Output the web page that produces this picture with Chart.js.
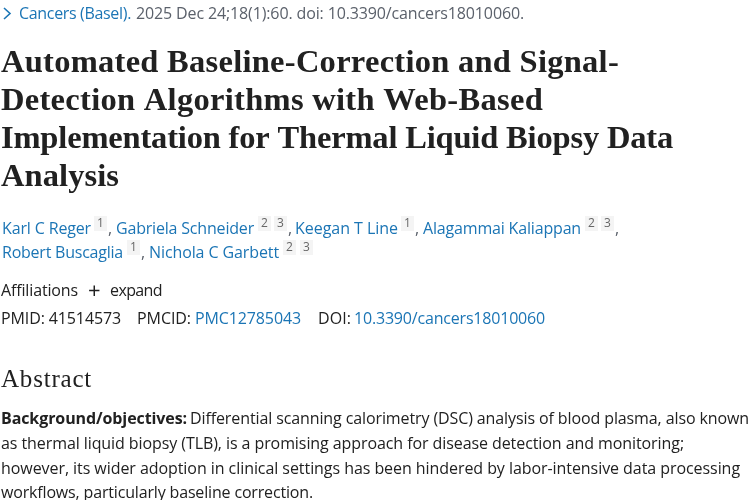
<!DOCTYPE html>
<html>
<head>
<meta charset="utf-8">
<script src="https://cdn.jsdelivr.net/npm/chart.js@4"></script>
<style>
html, body { margin: 0; background: #fff; }
canvas { display: block; }
</style>
</head>
<body>
<canvas id="page" width="750" height="500"></canvas>
<script>
// the reference is a PubMed article header: it holds no plotted values, only text
const journalLine = ['Cancers (Basel).', '2025 Dec 24;18(1):60. doi: 10.3390/cancers18010060.'];
const headingLines = [
    'Automated Baseline-Correction and Signal-',
    'Detection Algorithms with Web-Based',
    'Implementation for Thermal Liquid Biopsy Data',
    'Analysis'
];
const authorNames = ['Karl C Reger', 'Gabriela Schneider', 'Keegan T Line', 'Alagammai Kaliappan', 'Robert Buscaglia', 'Nichola C Garbett'];
const metaLabels = ['Affiliations', '+', 'expand', 'PMID: 41514573', 'PMCID:', 'PMC12785043', 'DOI:', '10.3390/cancers18010060'];
const abstractTitle = 'Abstract';
const abstractLead = 'Background/objectives:';
const abstractLines = [
    'Differential scanning calorimetry (DSC) analysis of blood plasma, also known',
    'as thermal liquid biopsy (TLB), is a promising approach for disease detection and monitoring;',
    'however, its wider adoption in clinical settings has been hindered by labor-intensive data processing',
    'workflows, particularly baseline correction.'
];

const BODY = '16px "Open Sans"';
const HEAD = 'bold 32.5px "Liberation Serif"';
const BLUE = '#1b75b5', DARK = '#212121', GRAY = '#5b616b';

// squeeze a string to the width it has in the reference
function fit(ctx, text, x, y, width, font, color) {
    ctx.font = font;
    ctx.fillStyle = color;
    ctx.letterSpacing = '0px';
    const extra = (width - ctx.measureText(text).width) / text.length;
    ctx.letterSpacing = extra + 'px';
    ctx.fillText(text, x, y);
    ctx.letterSpacing = '0px';
}

function chip(ctx, label, x, y) {
    ctx.fillStyle = '#f4f4f4';
    ctx.fillRect(x, y, 13, 15);
    ctx.font = '12px "Open Sans"';
    ctx.fillStyle = '#666';
    ctx.textAlign = 'center';
    ctx.fillText(label, x + 6.5, y + 11);
    ctx.textAlign = 'left';
}

const pageText = {
    id: 'pageText',
    afterDraw(chart) {
        const ctx = chart.ctx;
        ctx.save();
        ctx.textBaseline = 'alphabetic';

        // chevron in front of the journal
        ctx.strokeStyle = BLUE;
        ctx.lineWidth = 1.6;
        ctx.beginPath();
        ctx.moveTo(4, 8);
        ctx.lineTo(10, 13.5);
        ctx.lineTo(4, 19);
        ctx.stroke();
        fit(ctx, journalLine[0], 19, 19, 112, BODY, BLUE);
        fit(ctx, journalLine[1], 136, 19, 388, BODY, GRAY);

        fit(ctx, headingLines[0], 1, 72, 618, HEAD, DARK);
        fit(ctx, headingLines[1], 1, 110, 542, HEAD, DARK);
        fit(ctx, headingLines[2], 1, 148, 672, HEAD, DARK);
        fit(ctx, headingLines[3], 1, 186, 118, HEAD, DARK);

        fit(ctx, authorNames[0], 2, 234, 89, BODY, BLUE);
        chip(ctx, '1', 94, 216);
        fit(ctx, ',', 108, 234, 4, BODY, GRAY);
        fit(ctx, authorNames[1], 116, 234, 138, BODY, BLUE);
        chip(ctx, '2', 258, 216);
        chip(ctx, '3', 274, 216);
        fit(ctx, ',', 288, 234, 4, BODY, GRAY);
        fit(ctx, authorNames[2], 295, 234, 103, BODY, BLUE);
        chip(ctx, '1', 401, 216);
        fit(ctx, ',', 415, 234, 4, BODY, GRAY);
        fit(ctx, authorNames[3], 423, 234, 158, BODY, BLUE);
        chip(ctx, '2', 585, 216);
        chip(ctx, '3', 601, 216);
        fit(ctx, ',', 615, 234, 4, BODY, GRAY);

        fit(ctx, authorNames[4], 2, 258, 121, BODY, BLUE);
        chip(ctx, '1', 127, 240);
        fit(ctx, ',', 141, 258, 4, BODY, GRAY);
        fit(ctx, authorNames[5], 149, 258, 130, BODY, BLUE);
        chip(ctx, '2', 283, 240);
        chip(ctx, '3', 300, 240);

        fit(ctx, metaLabels[0], 1, 296, 77, BODY, DARK);
        fit(ctx, metaLabels[1], 88, 298, 16, '22px "Open Sans"', DARK);
        fit(ctx, metaLabels[2], 110, 296, 52, BODY, DARK);
        fit(ctx, metaLabels[3], 1, 324, 120, BODY, DARK);
        fit(ctx, metaLabels[4], 137, 324, 54, BODY, DARK);
        fit(ctx, metaLabels[5], 195, 324, 106, BODY, BLUE);
        fit(ctx, metaLabels[6], 318, 324, 33, BODY, DARK);
        fit(ctx, metaLabels[7], 354, 324, 191, BODY, BLUE);

        fit(ctx, abstractTitle, 1, 387, 91, '25px "Liberation Serif"', DARK);

        fit(ctx, abstractLead, 1, 424, 186, 'bold 16px "Open Sans"', DARK);
        fit(ctx, abstractLines[0], 190, 424, 559, BODY, DARK);
        fit(ctx, abstractLines[1], 1, 449, 683, BODY, DARK);
        fit(ctx, abstractLines[2], 1, 474, 739, BODY, DARK);
        fit(ctx, abstractLines[3], 1, 498, 312, BODY, DARK);
        ctx.restore();
    }
};

new Chart(document.getElementById('page').getContext('2d'), {
    type: 'line',
    data: { labels: [], datasets: [] },
    options: {
        responsive: false,
        animation: false,
        plugins: { legend: { display: false }, title: { display: false }, tooltip: { enabled: false } },
        scales: { x: { display: false }, y: { display: false } }
    },
    plugins: [pageText]
});
</script>
</body>
</html>
